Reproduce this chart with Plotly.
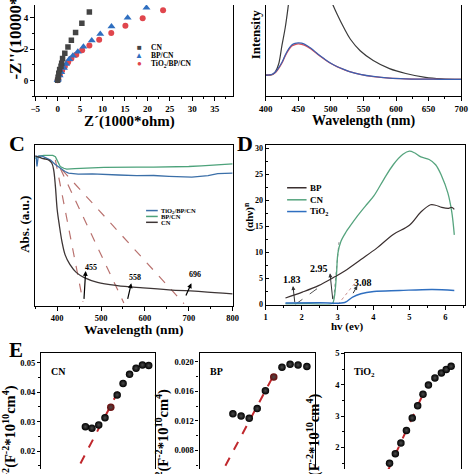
import plotly.graph_objects as go

W = H = 474
FONT = "Liberation Serif"

# ---------------- Panel A : Nyquist plot ----------------
a_cn_x = [0, 0.1, 0.25, 0.45, 0.75, 0.9, 1.1, 1.6, 2.3, 3.06, 4.0, 5.4, 7.07]
a_cn_y = [0, 0.2, 0.45, 0.7, 0.9, 1.1, 1.4, 1.73, 2.13, 2.56, 3.06, 3.65, 4.37]
a_bp_x = [0, 0.1, 0.45, 0.8, 1.4, 1.9, 2.6, 3.4, 4.5, 5.75, 7.6, 9.5, 12.0, 15.6, 19.8]
a_bp_y = [0, 0.1, 0.31, 0.52, 0.79, 1.04, 1.35, 1.57, 1.83, 2.15, 2.54, 2.96, 3.44, 4.0, 4.63]
a_tb_x = [0, 0.15, 0.5, 1.0, 1.6, 2.33, 3.06, 4.15, 5.46, 7.07, 9.26, 11.95, 15.1, 18.95, 23.5]
a_tb_y = [0, 0.11, 0.36, 0.63, 0.88, 1.15, 1.4, 1.63, 1.92, 2.23, 2.6, 3.02, 3.48, 3.96, 4.48]

# ---------------- Panel B : PL spectra ----------------
b_wl = [400, 405, 410, 415, 420, 425, 430, 435, 440, 445, 450, 455, 460, 470, 480, 490,
        500, 510, 520, 530, 545, 565, 590, 615, 645, 670, 700]
b_cn = [213, 214, 218, 250, 330, 520, 700, 940, 1200, 1400, 1550, 1620, 1640, 1550, 1350, 1150,
        980, 830, 697, 580, 463, 363, 280, 230, 190, 175, 170]
b_bpcn = [213, 215, 222, 245, 290, 345, 420, 480, 522, 538, 544, 540, 528, 485, 430, 380,
          335, 300, 272, 247, 222, 200, 183, 176, 173, 171, 170]
b_tbc = [213, 214, 220, 240, 283, 337, 410, 470, 510, 526, 532, 528, 517, 477, 424, 376,
         332, 298, 270, 246, 221, 199, 183, 176, 173, 171, 170]

# ---------------- Panel C : UV-vis ----------------
c_cn_wl = [350, 358, 366, 374, 381, 388, 392, 396, 400, 405, 411, 418, 429, 444, 462, 492,
           537, 596, 655, 729, 800]
c_cn = [0.93, 0.925, 0.917, 0.912, 0.906, 0.886, 0.846, 0.744, 0.60, 0.50, 0.398, 0.317,
        0.256, 0.205, 0.174, 0.144, 0.124, 0.11, 0.098, 0.087, 0.073]
c_tb_wl = [350, 352, 354, 357, 366, 375, 385, 395, 407, 418, 426, 448, 480, 507, 540, 581,
           620, 655, 690, 707, 744, 766, 800]
c_tb = [0.93, 0.93, 0.866, 0.93, 0.93, 0.92, 0.906, 0.88, 0.855, 0.835, 0.825, 0.819, 0.82,
        0.815, 0.813, 0.809, 0.81, 0.805, 0.803, 0.80, 0.809, 0.821, 0.825]
c_bp_wl = [350, 359, 370, 381, 390, 396, 402, 407, 415, 422, 440, 455, 480, 507, 540, 581,
           620, 655, 700, 729, 760, 800]
c_bp = [0.917, 0.93, 0.935, 0.937, 0.935, 0.927, 0.895, 0.866, 0.855, 0.85, 0.853, 0.856,
        0.858, 0.86, 0.862, 0.862, 0.862, 0.862, 0.866, 0.87, 0.876, 0.882]
c_tan_x = [[396, 459], [407, 552], [411, 689]]
c_tan_y = [[0.907, 0.023], [0.855, 0.016], [0.846, 0.012]]
c_edges = ["455", "558", "696"]
c_lab_x = [477, 578, 714]
c_lab_y = [0.238, 0.173, 0.192]
c_arr_tail_x = [461, 560, 692]
c_arr_tail_y = [0.032, 0.032, 0.053]
c_arr_head_x = [465, 569, 706]
c_arr_head_y = [0.215, 0.138, 0.138]

# ---------------- Panel D : Tauc plot ----------------
d_bp_x = [1.55, 2.02, 2.47, 2.92, 3.2, 3.65, 4.1, 4.55, 5.0, 5.32, 5.59, 5.73, 5.9, 6.09, 6.18, 6.25]
d_bp_y = [1.26, 2.39, 3.64, 5.33, 6.46, 8.66, 10.9, 13.5, 15.25, 17.8, 19.2, 19.1, 18.7, 18.5, 18.7, 18.3]
d_cn_x = [1.55, 2.2, 2.85, 2.91, 2.97, 3.01, 3.09, 3.24, 3.33, 3.56, 3.78, 4.01, 4.28, 4.55, 4.82,
          5.0, 5.14, 5.32, 5.55, 5.73, 5.9, 6.07, 6.18, 6.25]
d_cn_y = [0.1, 0.15, 0.2, 1.44, 5.8, 9.9, 12.1, 14.0, 14.9, 17.1, 19.0, 20.9, 24.0, 26.9, 28.9,
          29.5, 29.2, 28.4, 27.9, 26.9, 24.7, 21.5, 17.8, 13.4]
d_ti_x = [1.55, 2.5, 3.2, 3.42, 3.65, 4.01, 4.73, 5.64, 6.25]
d_ti_y = [0.3, 0.35, 0.4, 1.44, 2.07, 2.5, 2.7, 2.9, 2.7]
d_tan_bp_x, d_tan_bp_y = [1.82, 2.6], [0.0, 3.9]
d_tan_cn_x, d_tan_cn_y = [2.88, 3.04], [0.0, 12.0]
d_tan_ti_x, d_tan_ti_y = [3.01, 3.47], [0.0, 4.0]
d_gaps = ["1.83", "2.95", "3.08"]
d_lab_x = [1.745, 2.49, 3.70]
d_lab_y = [4.9, 6.97, 4.33]
d_arr_tail_x = [1.813, 2.87, 3.41]
d_arr_tail_y = [0.19, 0.75, 1.9]
d_arr_head_x = [1.759, 2.79, 3.55]
d_arr_head_y = [3.58, 6.0, 3.6]

# ---------------- Panel E : Mott-Schottky ----------------
e_cn_x = [0.39, 0.447, 0.507, 0.562, 0.613, 0.669, 0.721, 0.778, 0.835, 0.891, 0.946]
e_cn_y = [0.0283, 0.0278, 0.0289, 0.0313, 0.0349, 0.0391, 0.043, 0.0461, 0.0482, 0.0493, 0.0491]
e_cn_fit_x, e_cn_fit_y = [0.2, 0.684], [0.0049, 0.0408]
e_bp_x = [0.288, 0.359, 0.429, 0.498, 0.569, 0.641, 0.712, 0.782, 0.851, 0.927]
e_bp_y = [0.01295, 0.01265, 0.01234, 0.01366, 0.01608, 0.01793, 0.01925, 0.01964, 0.01955, 0.01934]
e_bp_fit_x, e_bp_fit_y = [0.15, 0.647], [0.0038, 0.01836]
e_ti_x = [0.381, 0.431, 0.479, 0.527, 0.577, 0.624, 0.670, 0.717, 0.773, 0.829, 0.871, 0.913]
e_ti_y = [1.49, 1.80, 2.14, 2.54, 2.94, 3.33, 3.70, 3.99, 4.22, 4.38, 4.49, 4.59]
e_ti_fit_x, e_ti_fit_y = [0.30, 0.675], [0.72, 3.74]


def X(p):
    return p / W


def Y(p):
    return 1 - p / H


fig = go.Figure()

# Panel A traces
fig.add_trace(go.Scatter(x=a_tb_x, y=a_tb_y, mode="markers", xaxis="x", yaxis="y",
                         marker=dict(symbol="circle", size=6, color="#e0464d")))
fig.add_trace(go.Scatter(x=a_bp_x, y=a_bp_y, mode="markers", xaxis="x", yaxis="y",
                         marker=dict(symbol="triangle-up", size=7, color="#2f6fc0")))
fig.add_trace(go.Scatter(x=a_cn_x, y=a_cn_y, mode="markers", xaxis="x", yaxis="y",
                         marker=dict(symbol="square", size=5.5, color="#444444")))

# Panel B traces
fig.add_trace(go.Scatter(x=b_wl, y=b_cn, mode="lines", xaxis="x2", yaxis="y2",
                         line=dict(color="#3a3a3a", width=1.2, shape="spline")))
fig.add_trace(go.Scatter(x=b_wl, y=b_tbc, mode="lines", xaxis="x2", yaxis="y2",
                         line=dict(color="#d9505a", width=1.3, shape="spline")))
fig.add_trace(go.Scatter(x=b_wl, y=b_bpcn, mode="lines", xaxis="x2", yaxis="y2",
                         line=dict(color="#3a5fb0", width=1.2, shape="spline")))

# Panel C traces
for tx, ty in zip(c_tan_x, c_tan_y):
    fig.add_trace(go.Scatter(x=tx, y=ty, mode="lines", xaxis="x3", yaxis="y3",
                             line=dict(color="#b9726f", width=1.2, dash="dash")))
fig.add_trace(go.Scatter(x=c_bp_wl, y=c_bp, mode="lines", xaxis="x3", yaxis="y3",
                         line=dict(color="#4ca27a", width=1.3)))
fig.add_trace(go.Scatter(x=c_tb_wl, y=c_tb, mode="lines", xaxis="x3", yaxis="y3",
                         line=dict(color="#3b6fa8", width=1.3)))
fig.add_trace(go.Scatter(x=c_cn_wl, y=c_cn, mode="lines", xaxis="x3", yaxis="y3",
                         line=dict(color="#3d3535", width=1.3, shape="spline")))

# Panel D traces
fig.add_trace(go.Scatter(x=d_tan_bp_x, y=d_tan_bp_y, mode="lines", xaxis="x4", yaxis="y4",
                         line=dict(color="#555555", width=1, dash="dash")))
fig.add_trace(go.Scatter(x=d_tan_cn_x, y=d_tan_cn_y, mode="lines", xaxis="x4", yaxis="y4",
                         line=dict(color="#888888", width=1, dash="dot")))
fig.add_trace(go.Scatter(x=d_tan_ti_x, y=d_tan_ti_y, mode="lines", xaxis="x4", yaxis="y4",
                         line=dict(color="#c98f8f", width=1, dash="dot")))
fig.add_trace(go.Scatter(x=d_cn_x, y=d_cn_y, mode="lines", xaxis="x4", yaxis="y4",
                         line=dict(color="#56a47e", width=1.3, shape="spline")))
fig.add_trace(go.Scatter(x=d_bp_x, y=d_bp_y, mode="lines", xaxis="x4", yaxis="y4",
                         line=dict(color="#3a2f2f", width=1.2, shape="spline")))
fig.add_trace(go.Scatter(x=d_ti_x, y=d_ti_y, mode="lines", xaxis="x4", yaxis="y4",
                         line=dict(color="#2f6fc0", width=1.4, shape="spline")))

# Panel E traces
for (px_, py_, fx, fy, xa, ya, red_idx) in [
        (e_cn_x, e_cn_y, e_cn_fit_x, e_cn_fit_y, "x5", "y5", 4),
        (e_bp_x, e_bp_y, e_bp_fit_x, e_bp_fit_y, "x6", "y6", 5),
        (e_ti_x, e_ti_y, e_ti_fit_x, e_ti_fit_y, "x7", "y7", -1)]:
    fig.add_trace(go.Scatter(x=fx, y=fy, mode="lines", xaxis=xa, yaxis=ya,
                             line=dict(color="#c0282d", width=2, dash="dash")))
    cols = ["#6e0a0a" if i == red_idx else "#000000" for i in range(len(px_))]
    fig.add_trace(go.Scatter(x=px_, y=py_, mode="markers", xaxis=xa, yaxis=ya,
                             marker=dict(size=7.5, color=cols, line=dict(width=0),
                                         gradient=dict(type="radial", color="#4a4a4a"))))

tickfont = dict(family=FONT, size=9, color="black", weight="bold")
base = dict(showline=True, linecolor="black", linewidth=1.3, ticks="outside", ticklen=4,
            tickwidth=1, tickcolor="black", showgrid=False, zeroline=False, tickfont=tickfont)


def minor(d, where="outside"):
    return dict(ticks=where, ticklen=2, tickwidth=1, tickcolor="black", showgrid=False, dtick=d)


lay = {}
lay["xaxis"] = dict(base, domain=[X(29), X(232)], range=[-5, 39], dtick=5, tick0=0,
                    anchor="y", minor=minor(2.5))
lay["yaxis"] = dict(base, domain=[Y(93), 1], range=[-1, 4.81], tickvals=[0, 2, 4],
                    anchor="x", mirror=True, minor=minor(1))
lay["xaxis2"] = dict(base, domain=[X(266), X(467)], range=[400, 700], dtick=50, tick0=0,
                     anchor="y2", minor=minor(25))
lay["yaxis2"] = dict(base, domain=[Y(93), 1], range=[0, 930], showticklabels=False, ticks="",
                     anchor="x2", mirror=True)
lay["xaxis3"] = dict(base, domain=[X(29), X(232)], range=[350, 800], dtick=100, tick0=0,
                     anchor="y3", mirror=True, minor=minor(50), tickfont=dict(tickfont, size=8.5))
lay["yaxis3"] = dict(base, domain=[Y(307), Y(143)], range=[0, 1], showticklabels=False, ticks="",
                     anchor="x3", mirror=True)
lay["xaxis4"] = dict(base, domain=[X(266), X(471)], range=[1, 6.55], dtick=1, tick0=0,
                     anchor="y4", mirror=True, minor=minor(0.5), tickfont=dict(tickfont, size=8.5))
lay["yaxis4"] = dict(base, domain=[Y(306), Y(143)], range=[0, 30.7], dtick=5, tick0=0,
                     anchor="x4", mirror=True, ticks="inside", ticklen=3,
                     minor=minor(2.5, "inside"), tickfont=dict(tickfont, size=8))
efont = dict(tickfont, size=8.5)
for i, (x0, x1, rng, dt, fmt, mn) in enumerate([
        (35, 152, [0.0139, 0.0532], 0.01, ".2f", 0.005),
        (198, 317, [0.0055, 0.0211], 0.004, ".3f", 0.002),
        (348, 467, [1.31, 5.0], 1, "d", 0.5)]):
    k = i + 5
    lay[f"xaxis{k}"] = dict(base, domain=[X(x0), X(x1)], range=[0, 1], side="top",
                            showticklabels=False, ticks="", anchor=f"y{k}")
    lay[f"yaxis{k}"] = dict(base, domain=[0, Y(356)], range=rng, dtick=dt, tick0=0,
                            tickformat=fmt, anchor=f"x{k}", mirror=True, tickfont=efont,
                            ticklen=3, minor=minor(mn))

ann = []


def txt(x, y, s, size, xanchor="center", yanchor="middle", angle=0, color="black"):
    ann.append(dict(x=X(x), y=Y(y), xref="paper", yref="paper", text=s, showarrow=False,
                    xanchor=xanchor, yanchor=yanchor, textangle=angle,
                    font=dict(family=FONT, size=size, color=color, weight="bold")))


# axis titles
txt(126, 119, "Z´(1000*ohm)", 15)
txt(9, 78, "-Z''(10000*ohm)", 17, yanchor="bottom", angle=-90)
txt(367, 118, "Wavelength (nm)", 14)
txt(255, 30, "Intensity", 13, angle=-90)
txt(130, 332, "Wavelength (nm)", 13.5)
txt(18, 224, "Abs. (a.u.)", 13, angle=-90)
txt(350, 328, "hv (ev)", 11)
txt(249, 216, "(αhν)<sup>n</sup>", 11, angle=-90)
etitle = "C<sup>-2</sup>(F<sup>-2</sup>*10<sup>10</sup>cm<sup>4</sup>)"
txt(3, 386, etitle, 14.5, yanchor="top", angle=-90)
txt(160, 390, etitle, 14.5, yanchor="top", angle=-90)
txt(315, 394, etitle, 14.5, yanchor="top", angle=-90)

# panel letters
txt(10, 141, "C", 22)
txt(245, 141, "D", 22)
txt(9, 352, "E", 21)

# E inner labels
txt(43, 374, "CN", 10, xanchor="left")
txt(207, 374, "BP", 10, xanchor="left")
txt(355, 375, "TiO<sub>2</sub>", 10, xanchor="left")

# Panel A legend
a_leg = [("■", "#444444", "CN", 43.5), ("▲", "#2f6fc0", "BP/CN", 51.7),
         ("●", "#e0464d", "TiO<sub>2</sub>/BP/CN", 60)]
for sym, col, lab, yy in a_leg:
    txt(136, yy, sym, 8, color=col)
    txt(146, yy, lab, 7.5, xanchor="left")

shapes = []
# Panel C legend
c_leg = [("#3b6fa8", "TiO<sub>2</sub>/BP/CN", 210), ("#4ca27a", "BP/CN", 216),
         ("#3d3535", "CN", 222)]
for col, lab, yy in c_leg:
    shapes.append(dict(type="line", xref="paper", yref="paper", x0=X(143), x1=X(155),
                       y0=Y(yy), y1=Y(yy), line=dict(color=col, width=1.5)))
    txt(156, yy, lab, 6.5, xanchor="left")

# Panel D legend
d_leg = [("#3a2f2f", "BP", 186.7), ("#56a47e", "CN", 199), ("#2f6fc0", "TiO<sub>2</sub>", 211)]
for col, lab, yy in d_leg:
    shapes.append(dict(type="line", xref="paper", yref="paper", x0=X(288), x1=X(308),
                       y0=Y(yy), y1=Y(yy), line=dict(color=col, width=1.5)))
    txt(310, yy, lab, 9, xanchor="left")

# Panel C edge labels and arrows
for s, lx, ly in zip(c_edges, c_lab_x, c_lab_y):
    ann.append(dict(x=lx, y=ly, xref="x3", yref="y3", text=s, showarrow=False,
                    font=dict(family=FONT, size=8, color="black", weight="bold")))
for tx, ty, hx, hy in zip(c_arr_tail_x, c_arr_tail_y, c_arr_head_x, c_arr_head_y):
    ann.append(dict(x=hx, y=hy, xref="x3", yref="y3", ax=tx, ay=ty, axref="x3", ayref="y3",
                    text="", showarrow=True, arrowhead=2, arrowsize=0.8, arrowwidth=1.2,
                    arrowcolor="black"))

# Panel D gap labels and arrows
for s, lx, ly in zip(d_gaps, d_lab_x, d_lab_y):
    ann.append(dict(x=lx, y=ly, xref="x4", yref="y4", text=s, showarrow=False,
                    font=dict(family=FONT, size=10, color="black", weight="bold")))
for tx, ty, hx, hy in zip(d_arr_tail_x, d_arr_tail_y, d_arr_head_x, d_arr_head_y):
    ann.append(dict(x=hx, y=hy, xref="x4", yref="y4", ax=tx, ay=ty, axref="x4", ayref="y4",
                    text="", showarrow=True, arrowhead=2, arrowsize=0.8, arrowwidth=1,
                    arrowcolor="#333333"))

fig.update_layout(**lay)
fig.update_layout(width=W, height=H, autosize=False, margin=dict(l=0, r=0, t=0, b=0),
                  paper_bgcolor="white", plot_bgcolor="white", showlegend=False,
                  annotations=ann, shapes=shapes,
                  font=dict(family=FONT, size=9, color="black", weight="bold"))
fig.write_html("out.html")
